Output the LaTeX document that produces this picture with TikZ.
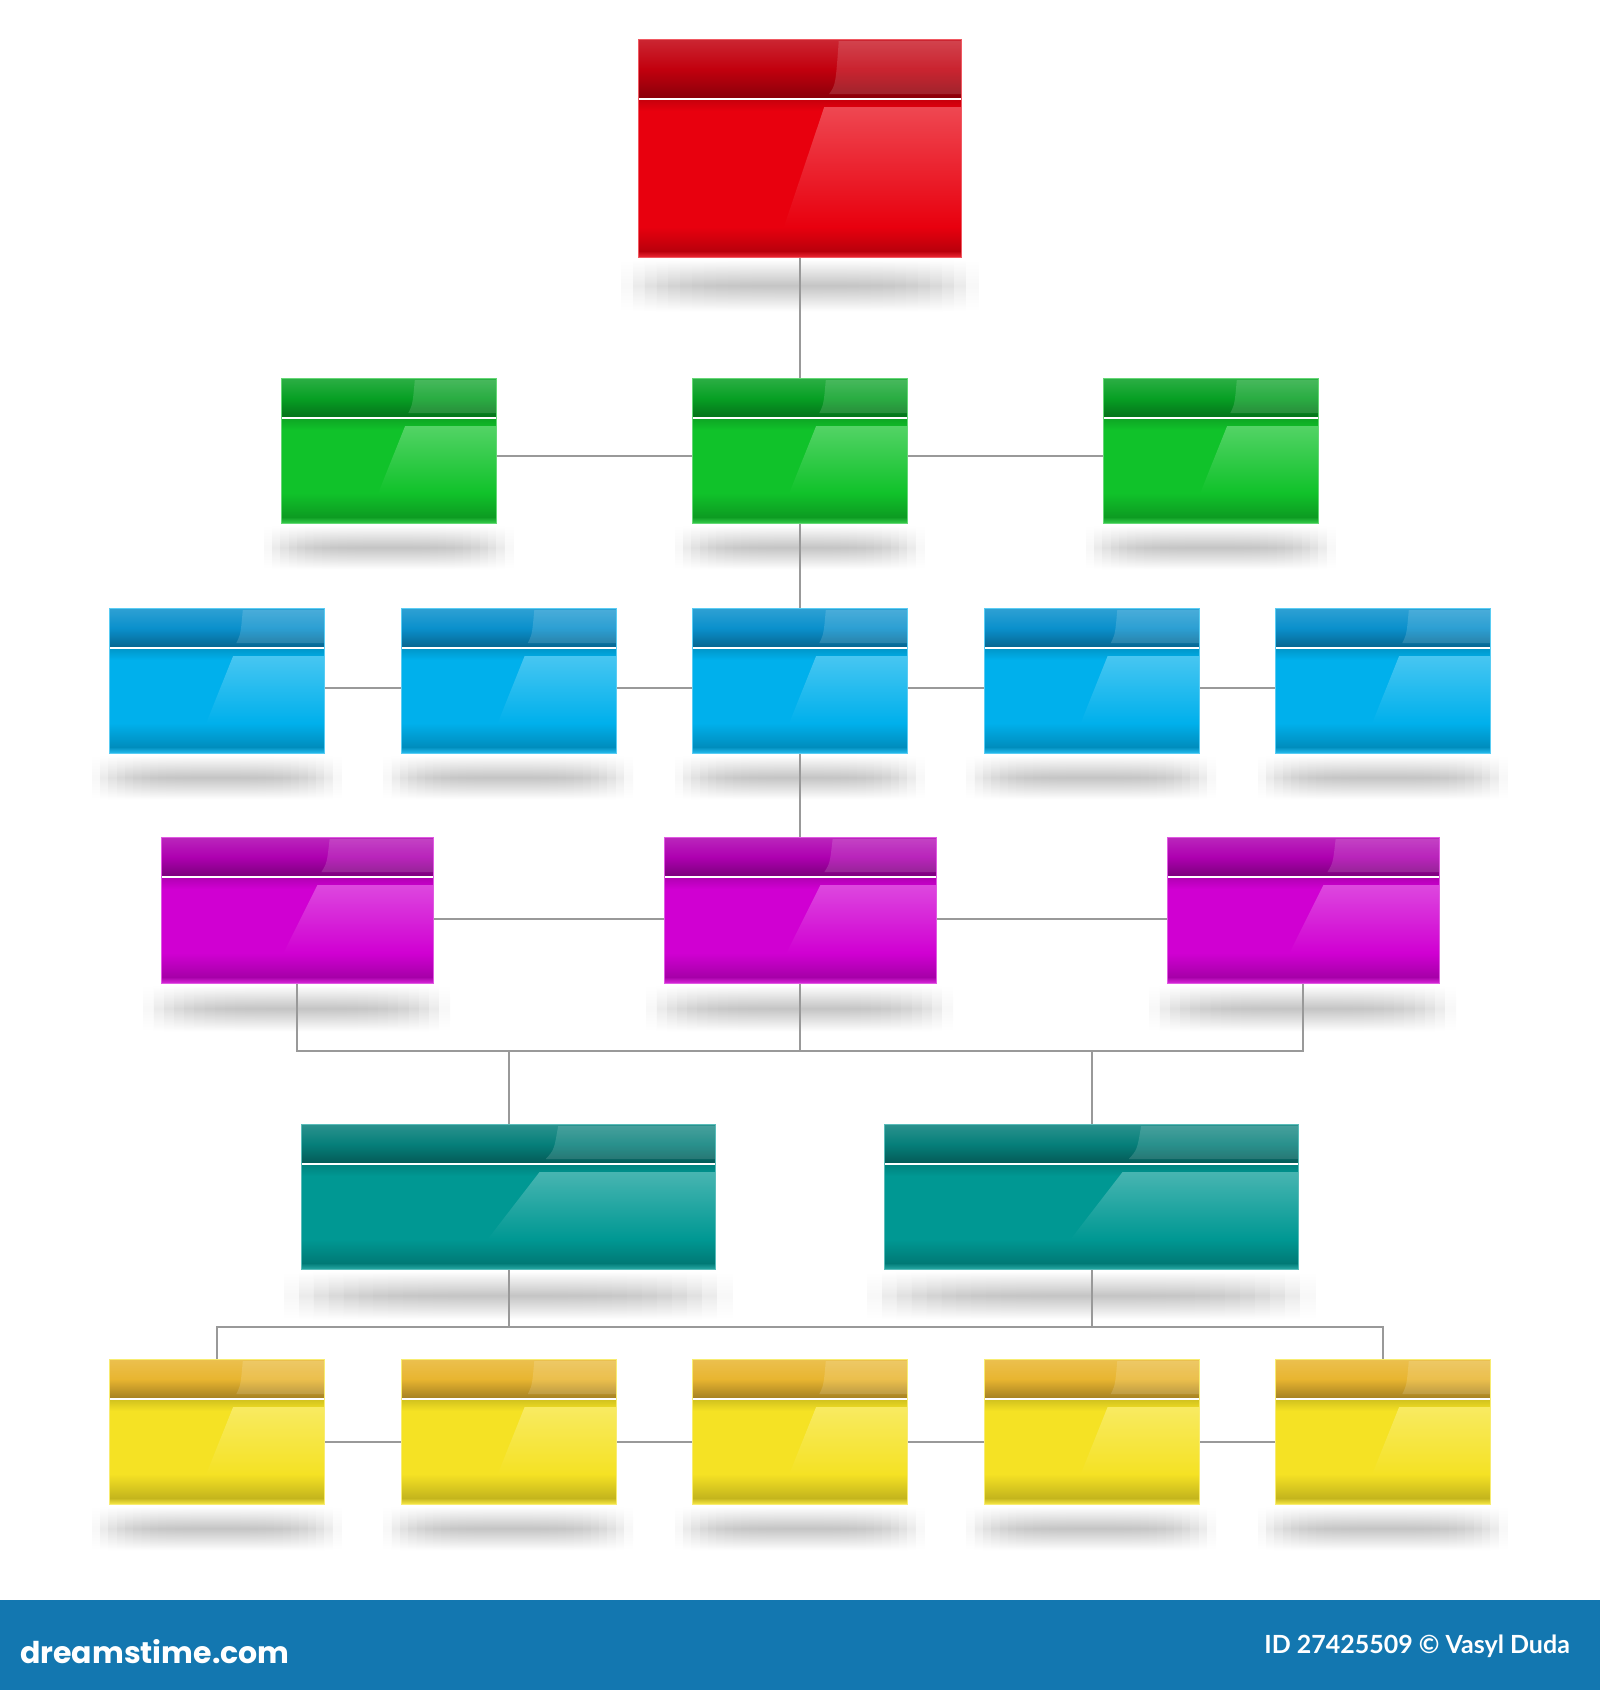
\documentclass[tikz,border=0pt]{standalone}
\usepackage{fontspec}
\newfontfamily\sitefont{Poppins}
\newfontfamily\creditfont{Lato}
\usetikzlibrary{calc}

\definecolor{cred}{HTML}{E8000E}
\definecolor{credH}{HTML}{C2000E}
\definecolor{cgreen}{HTML}{10C22A}
\definecolor{cgreenH}{HTML}{07A024}
\definecolor{cblue}{HTML}{00B0EC}
\definecolor{cblueH}{HTML}{0A90CC}
\definecolor{cpurple}{HTML}{D000D2}
\definecolor{cpurpleH}{HTML}{AE00B0}
\definecolor{cteal}{HTML}{009893}
\definecolor{ctealH}{HTML}{067F7A}
\definecolor{cyellow}{HTML}{F5E224}
\definecolor{cyellowH}{HTML}{E8B530}
\definecolor{barblue}{HTML}{1377B0}

\pgfdeclarelayer{background}
\pgfsetlayers{background,main}

\tikzset{
  hdr/.store in=\hdrh, hdr=40pt,
  box/.style={rectangle, fill=#1, draw=#1!65!white, line width=.8pt,
    minimum width=215pt, minimum height=145pt, inner sep=0pt,
    path picture={
      \coordinate (bNW) at (path picture bounding box.north west);
      \coordinate (bNE) at (path picture bounding box.north east);
      \coordinate (bSW) at (path picture bounding box.south west);
      \coordinate (bSE) at (path picture bounding box.south east);
      \coordinate (hL) at ($(bNW)+(0,-\hdrh)$);
      \coordinate (hR) at ($(bNE)+(0,-\hdrh)$);
      % header band
      \shade[top color=#1H!85!white, bottom color=#1H!70!black, middle color=#1H] (bNW) rectangle (hR);
      \fill[white, opacity=.14] ($(bNW)!.62!(bNE)+(0,-2pt)$) -- ($(bNE)+(0,-2pt)$)
        -- ($(hR)+(0,5pt)$) -- ($(hL)!.59!(hR)+(0,5pt)$)
        .. controls ($(hL)!.61!(hR)+(0,14pt)$) .. cycle;
      % body
      \shade[top color=#1!85!black, bottom color=#1] (hL) rectangle ($(hR)+(0,-12pt)$);
      \shade[top color=#1, bottom color=#1!80!black] ($(bSW)+(0,30pt)$) rectangle ($(bSE)+(0,6pt)$);
      \shade[top color=#1!80!black, bottom color=#1!85!white] ($(bSW)+(0,6pt)$) rectangle (bSE);
      \shade[top color=#1!72!white, bottom color=#1]
        ($(hL)!.575!(hR)+(0,-8pt)$) -- ($(hR)+(0,-8pt)$)
        -- ($(bSE)+(0,30pt)$) -- ($(bSW)!.45!(bSE)+(0,30pt)$) -- cycle;
      \draw[white, line width=2.5pt] (hL) -- (hR);
    }},
  link/.style={draw=black!40, line width=2pt},
}

\begin{document}
\begin{tikzpicture}[x=1pt,y=-1pt]
\useasboundingbox (0,0) rectangle (1600,1690);

% boxes, row by row
\node[box=cred, minimum width=323pt, minimum height=218pt, hdr=60pt] (r0) at (800,148) {};
\foreach \x [count=\i] in {389,800,1211}
  \node[box=cgreen] (g\i) at (\x,450.5) {};
\foreach \x [count=\i] in {217,508.5,800,1091.5,1383}
  \node[box=cblue] (b\i) at (\x,680.5) {};
\foreach \x [count=\i] in {297,800,1303}
  \node[box=cpurple, minimum width=272pt, minimum height=146pt] (p\i) at (\x,910) {};
\foreach \x [count=\i] in {508.5,1091.5}
  \node[box=cteal, minimum width=414pt] (t\i) at (\x,1196.5) {};
\foreach \x [count=\i] in {217,508.5,800,1091.5,1383}
  \node[box=cyellow] (y\i) at (\x,1431.5) {};

\begin{pgfonlayer}{background}
% soft shadows, built from thin vertical strips
\foreach \nd/\w/\dp in {r0/323/54,g1/215/46,g2/215/46,g3/215/46,b1/215/46,b2/215/46,b3/215/46,b4/215/46,b5/215/46,
    p1/272/48,p2/272/48,p3/272/48,t1/414/50,t2/414/50,y1/215/46,y2/215/46,y3/215/46,y4/215/46,y5/215/46}
  \foreach \s in {0,...,29}{
    \pgfmathsetmacro\pos{(\s+0.5)/15-1}
    \pgfmathsetmacro\grey{23*(1-\pos*\pos*\pos*\pos)}
    \shade[top color=white, bottom color=white, middle color=black!\grey]
      ([xshift={(\s*(\w+34)/30-17)*1pt}, yshift=-2pt]\nd.south west)
      rectangle ([xshift={((\s+1)*(\w+34)/30-17)*1pt+.4pt}, yshift={-\dp*1pt}]\nd.south west);
  }

% connectors
\draw[link] (r0.south) -- (g2.north);
\draw[link] ([yshift=-5pt]g1.east) -- ([yshift=-5pt]g2.west);
\draw[link] ([yshift=-5pt]g2.east) -- ([yshift=-5pt]g3.west);
\draw[link] (g2.south) -- (b3.north);
\foreach \i/\j in {1/2,2/3,3/4,4/5}
  \draw[link] ([yshift=-7pt]b\i.east) -- ([yshift=-7pt]b\j.west);
\draw[link] (b3.south) -- (p2.north);
\draw[link] ([yshift=-9pt]p1.east) -- ([yshift=-9pt]p2.west);
\draw[link] ([yshift=-9pt]p2.east) -- ([yshift=-9pt]p3.west);
\coordinate (pbus) at (800,1051);
\draw[link] (p1.south) |- (pbus) -| (p3.south);
\draw[link] (p2.south) -- (pbus);
\draw[link] (t1.north) -- (t1.north |- pbus);
\draw[link] (t2.north) -- (t2.north |- pbus);
\coordinate (tbus) at (800,1327);
\draw[link] (y1.north) |- (tbus) -| (y5.north);
\draw[link] (t1.south) -- (t1.south |- tbus);
\draw[link] (t2.south) -- (t2.south |- tbus);
\foreach \i/\j in {1/2,2/3,3/4,4/5}
  \draw[link] ([yshift=-10pt]y\i.east) -- ([yshift=-10pt]y\j.west);
\end{pgfonlayer}

% footer bar
\fill[barblue] (0,1600) rectangle (1600,1690);
\node[anchor=base west, inner sep=0pt, text=white, font=\sitefont\bfseries\fontsize{30}{30}\selectfont] (site) at (20,1663) {dreamstime.com};
\node[anchor=east, inner sep=0pt, text=white, font=\creditfont\bfseries\fontsize{25}{25}\selectfont] (credit) at (1570,1646) {ID 27425509 © Vasyl Duda};
\end{tikzpicture}
\end{document}
